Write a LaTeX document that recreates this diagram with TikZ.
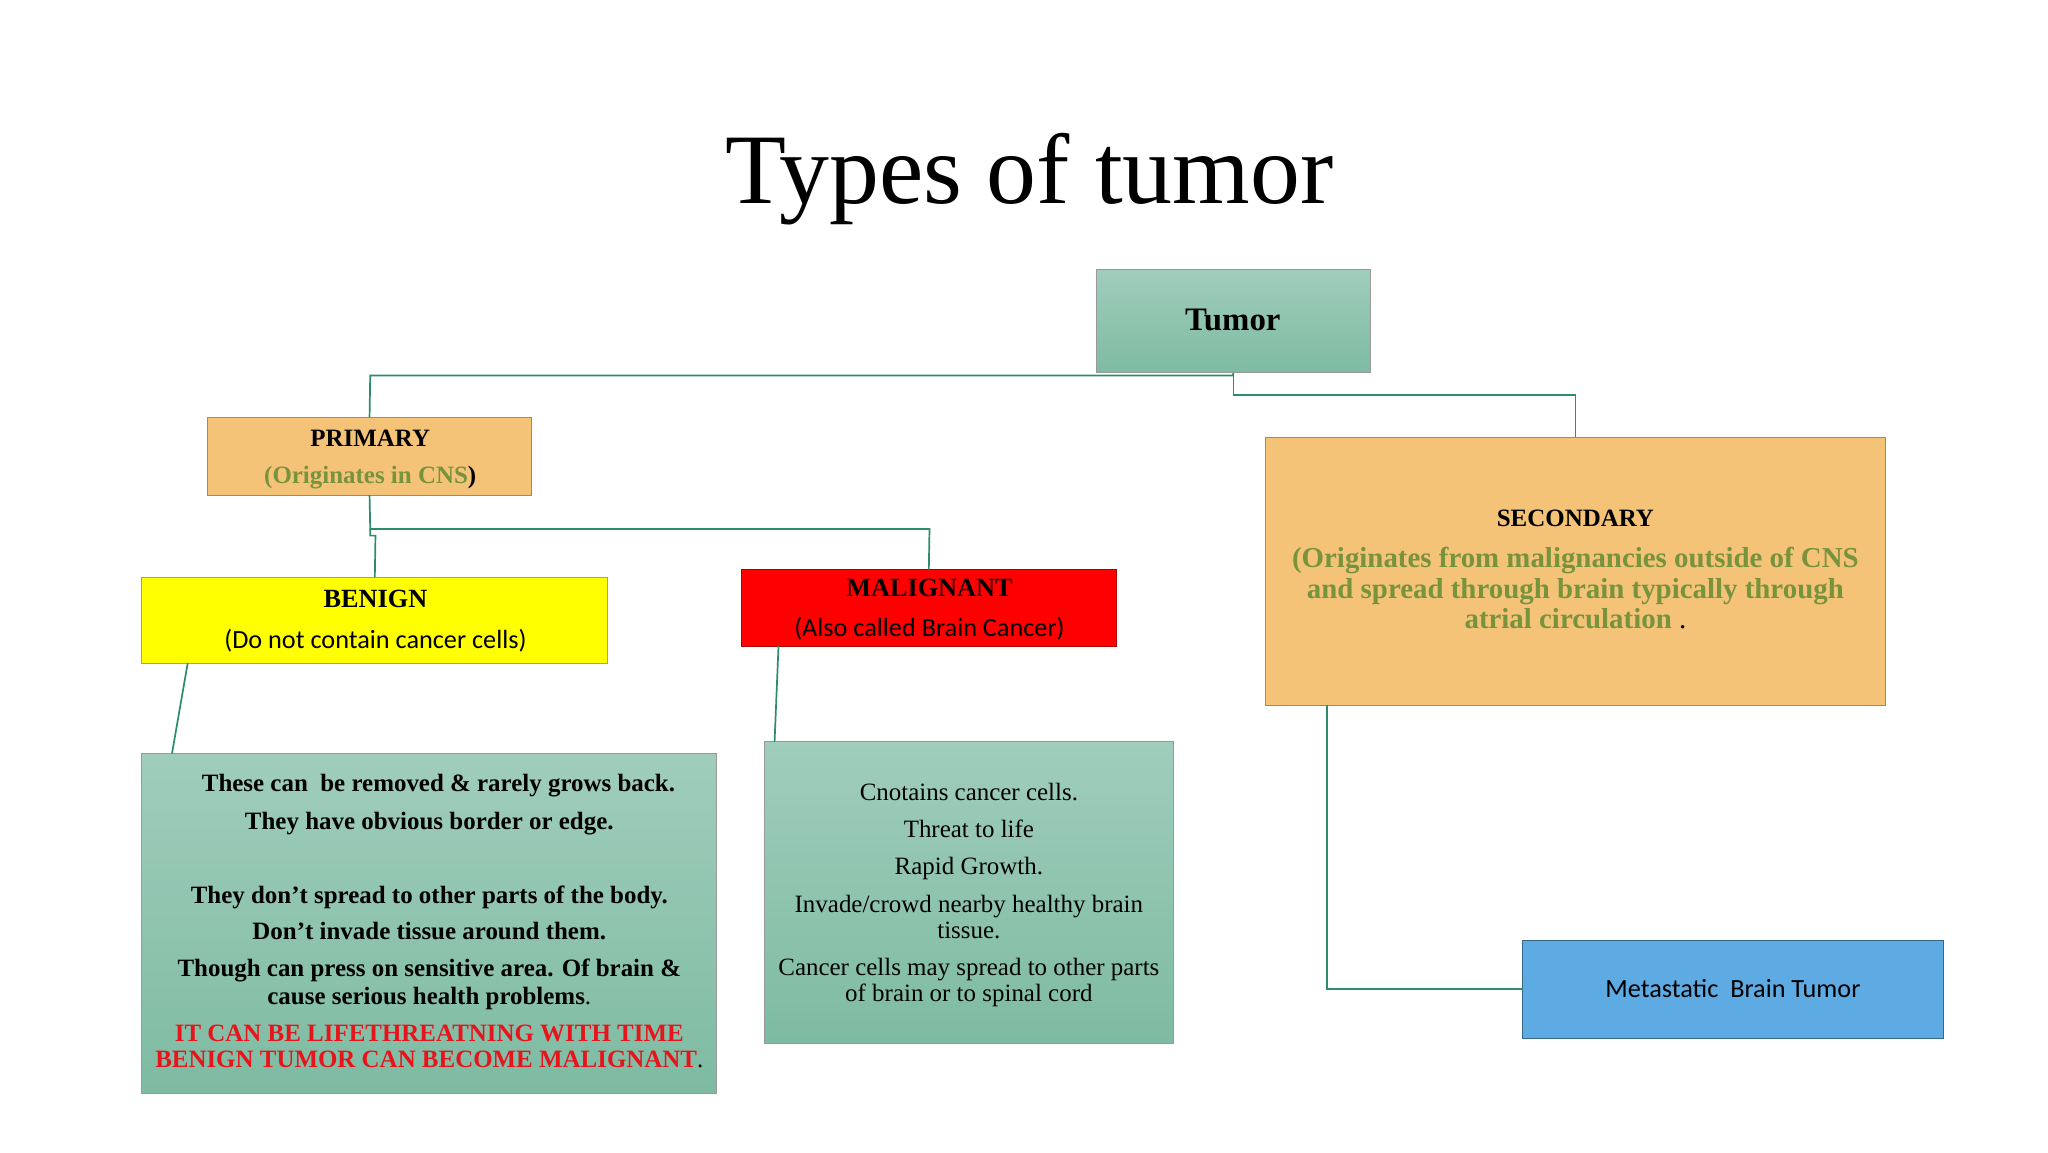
\documentclass[tikz,border=0pt]{standalone}
\usepackage{fontspec}
\setmainfont{Liberation Serif}
\newfontfamily\calfont{Carlito}
\begin{document}
\begin{tikzpicture}[x=1pt,y=-1pt,
 box/.style={draw=#1!70!black,line width=0.6pt,fill=#1,inner sep=0pt},
 tealbox/.style={draw=gray!80,line width=0.6pt,top color=teal1,bottom color=teal2,inner sep=0pt},
 conn/.style={draw=lin,line width=1.3pt},
 t/.style={inner sep=0pt,anchor=base,font=\fontsize{19}{22}\selectfont},
]
\definecolor{teal1}{HTML}{A0CDBC}
\definecolor{teal2}{HTML}{7EBBA2}
\definecolor{org}{HTML}{F5C378}
\definecolor{yel}{HTML}{FFFF00}
\definecolor{rd}{HTML}{FF0000}
\definecolor{blu}{HTML}{5EAAE2}
\definecolor{grn}{HTML}{77933C}
\definecolor{lin}{HTML}{2C8C6C}
\definecolor{redt}{HTML}{E8141C}
\useasboundingbox (0,0) rectangle (1560,878);
\fill[white] (0,0) rectangle (1560,878);
\node[t,font=\fontsize{76}{80}\selectfont] (title) at (784,155) {Types of tumor};
% boxes
\draw[tealbox] (835,205) rectangle (1044,284); \node (tumor) [minimum width=209pt,minimum height=79pt] at (939.5,244.5) {};
\node[t,font=\fontsize{25}{28}\selectfont\bfseries] at (939,252) {Tumor};
\draw[box=org] (158,318) rectangle (405,377); \node (prim) [minimum width=247pt,minimum height=59pt] at (281.5,347.5) {};
\node[t,font=\fontsize{19}{22}\selectfont\bfseries] at (282,340) {PRIMARY};
\node[t,font=\fontsize{19}{22}\selectfont\bfseries] at (282,368) {\textcolor{grn}{(Originates in CNS}\textcolor{black}{)}};
\draw[box=yel] (108,440) rectangle (463,505); \node (ben) [minimum width=355pt,minimum height=65pt] at (285.5,472.5) {};
\node[t,font=\fontsize{20}{22}\selectfont\bfseries] at (286,463) {BENIGN};
\node[t,font=\calfont\fontsize{20}{22}\selectfont] at (286,494) {(Do not contain cancer cells)};
\draw[box=rd] (565,434) rectangle (850,492); \node (mal) [minimum width=285pt,minimum height=58pt] at (707.5,463) {};
\node[t,font=\fontsize{20}{22}\selectfont\bfseries] at (708,454) {MALIGNANT};
\node[t,font=\calfont\fontsize{20}{22}\selectfont] at (708,485) {(Also called Brain Cancer)};
\draw[box=org] (964,333) rectangle (1436,537); \node (sec) [minimum width=472pt,minimum height=204pt] at (1200,435) {};
\node[t,font=\fontsize{19}{22}\selectfont\bfseries] at (1200,401) {SECONDARY};
\begin{scope}[every node/.style={t,font=\fontsize{22}{24}\selectfont\bfseries,text=grn}]
\node at (1200,432) {(Originates from malignancies outside of CNS};
\node at (1200,456) {and spread through brain typically through};
\node at (1200,479) {atrial circulation \textcolor{black}{\mdseries.}};
\end{scope}
\draw[tealbox] (108,574) rectangle (546,833); \node (bend) [minimum width=438pt,minimum height=259pt] at (327,703.5) {};
\begin{scope}[every node/.style={t,font=\fontsize{19}{22}\selectfont\bfseries}]
\node at (334,603) {These can\ \ be removed \& rarely grows back.};
\node at (327,632) {They have obvious border or edge.};
\node at (327,688) {They don’t spread to other parts of the body.};
\node at (327,716) {Don’t invade tissue around them.};
\node at (327,744) {Though can press on sensitive area. Of brain \&};
\node at (327,765) {cause serious health problems\mdseries.};
\node[text=redt] at (327,793) {IT CAN BE LIFETHREATNING WITH TIME};
\node[text=redt] at (327,813) {BENIGN TUMOR CAN BECOME MALIGNANT\textcolor{black}{\mdseries.}};
\end{scope}
\draw[tealbox] (582,565) rectangle (894,795); \node (mald) [minimum width=312pt,minimum height=230pt] at (738,680) {};
\begin{scope}[every node/.style={t,font=\fontsize{19}{22}\selectfont}]
\node at (738,610) {Cnotains cancer cells.};
\node at (738,638) {Threat to life};
\node at (738,666) {Rapid Growth.};
\node at (738,695) {Invade/crowd nearby healthy brain};
\node at (738,715) {tissue.};
\node at (738,743) {Cancer cells may spread to other parts};
\node at (738,763) {of brain or to spinal cord};
\end{scope}
\draw[box=blu,draw=blu!60!black] (1160,716) rectangle (1480,791); \node (meta) [minimum width=320pt,minimum height=75pt] at (1320,753.5) {};
\node[t,font=\calfont\fontsize{20}{22}\selectfont] at (1320,760) {Metastatic\ \ Brain Tumor};
% connectors
\coordinate (j1) at (939,286);
\draw[conn] (tumor.south) -- (j1) -- (282,286) -- (prim.north);
\draw[conn] (tumor.south) |- (1200,301) -- (sec.north);
\coordinate (j2) at (282,403);
\draw[conn] (prim.south) -- (j2) -- (708,403) -- (mal.north);
\draw[conn] (j2) -- (282,408) -- (286,408) -- (ben.north);
\coordinate (b1) at (143,505); \coordinate (b2) at (131,574);
\draw[conn] (b1) -- (b2);
\coordinate (m1) at (593,492); \coordinate (m2) at (590,565);
\draw[conn] (m1) -- (m2);
\draw[conn] (1011,537) |- (meta.west);
\end{tikzpicture}
\end{document}
